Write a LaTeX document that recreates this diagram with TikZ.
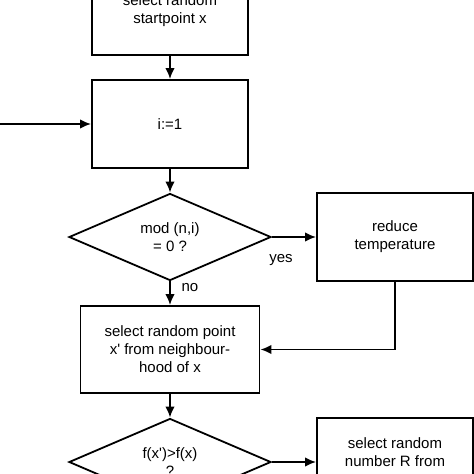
\documentclass[tikz,border=0pt]{standalone}
\usepackage{fontspec}
\setmainfont{Liberation Sans}
\usetikzlibrary{shapes.geometric,arrows.meta}
\begin{document}
\begin{tikzpicture}[x=1pt,y=-1pt,
  every node/.style={font=\fontsize{15}{18}\selectfont},
  box/.style={draw,line width=1.8pt,rectangle,inner sep=0pt,align=center},
  dec/.style={draw,line width=1.8pt,diamond,inner sep=0pt,align=center,aspect=2.3},
  conn/.style={line width=1.8pt,-{Latex[length=11pt,width=9.5pt]}},
  lbl/.style={inner sep=0pt}]
\useasboundingbox (0,0) rectangle (474,474);
\node[box,minimum width=156pt,minimum height=88pt] (start) at (170,11) {select random\\startpoint x};
\node[box,minimum width=156pt,minimum height=88pt] (init) at (170,124) {i:=1};
\node[dec,minimum width=202pt,minimum height=87pt] (mod) at (170,237) {mod (n,i)\\= 0 ?};
\node[box,minimum width=156pt,minimum height=88pt] (reduce) at (395,237) {reduce\\temperature};
\node[box,minimum width=179pt,minimum height=87pt] (nb) at (170,349.5) {select random point\\x\textquotesingle{} from neighbour-\\hood of x};
\node[dec,minimum width=202pt,minimum height=87pt] (cmp) at (170,462) {f(x\textquotesingle)>f(x)\\?};
\node[box,minimum width=156pt,minimum height=88pt] (rnd) at (395,462) {};
\node[lbl,align=center] (rndtext) at (395,452.5) {select random\\number R from};
\node[lbl] (yes) at (281,260) {yes};
\node[lbl] (no) at (190,288) {no};
\coordinate (loopB) at (-0.8,480);
\coordinate (loopT) at (-0.8,124);
\coordinate (bend) at (395,349.5);
\draw[conn] (start.south) -- (init.north);
\draw[conn] (init.south) -- (mod.north);
\draw[conn] (mod.east) -- (reduce.west);
\draw[conn] (mod.south) -- (nb.north);
\draw[conn] (reduce.south) -- (bend) -- (nb.east);
\draw[conn] (nb.south) -- (cmp.north);
\draw[conn] (cmp.east) -- (rnd.west);
\draw[conn] (loopB) -- (loopT) -- (init.west);
\end{tikzpicture}
\end{document}
